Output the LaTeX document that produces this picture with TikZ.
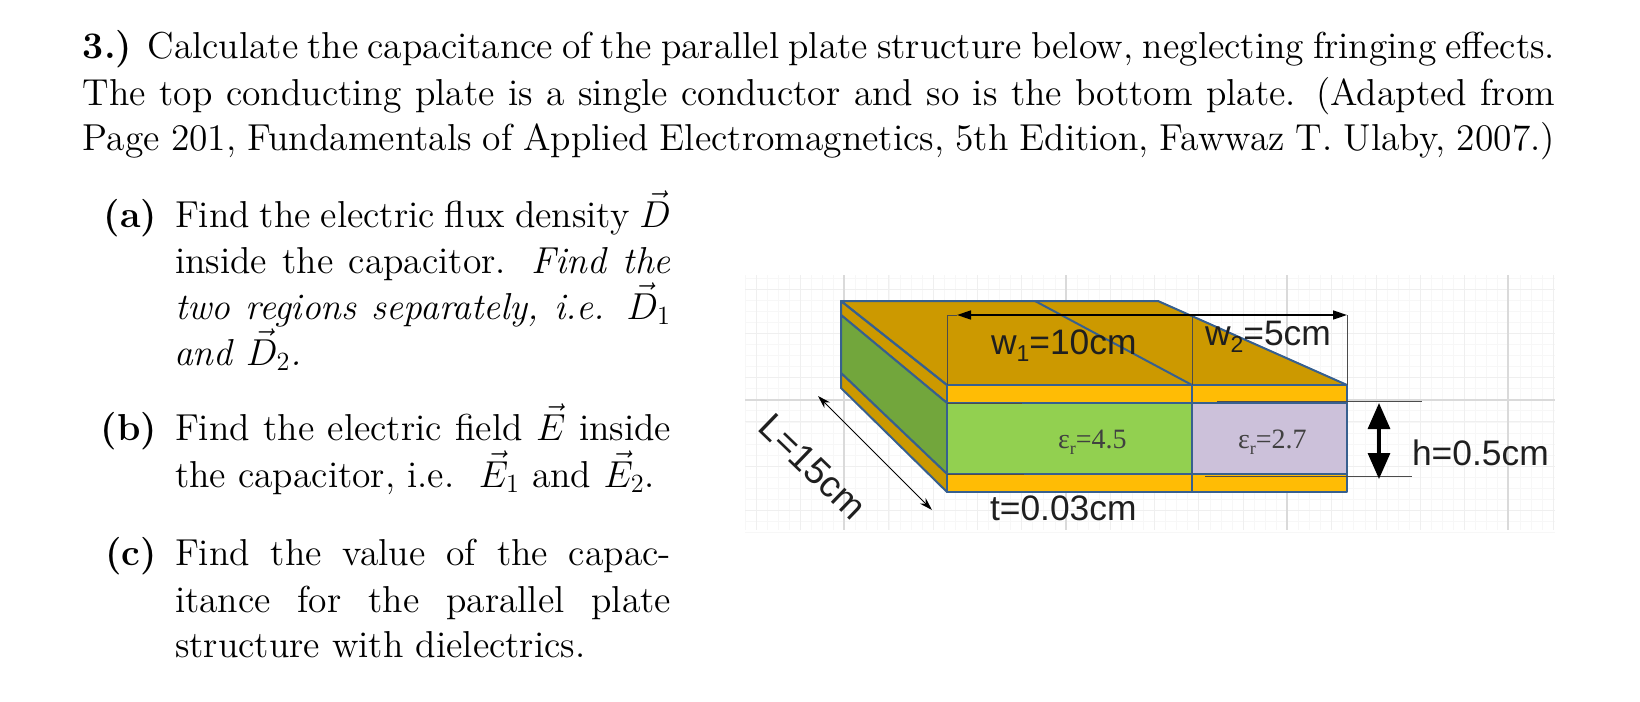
\RequirePackage{fix-cm}
\documentclass[tikz,border=0pt]{standalone}
\usepackage{fontspec}
\usetikzlibrary{arrows.meta}
\setmainfont{lmroman12-regular.otf}[BoldFont=lmroman12-bold.otf,ItalicFont=lmroman12-italic.otf]
\newfontfamily\labelfont{Liberation Sans}
\newfontfamily\epsfont{Liberation Serif}
\definecolor{topface}{HTML}{CC9900}
\definecolor{plate}{HTML}{FFBC05}
\definecolor{greenfront}{HTML}{92D050}
\definecolor{greenside}{HTML}{72A63C}
\definecolor{lilac}{HTML}{CCC1DA}
\definecolor{edge}{HTML}{37608F}
\definecolor{gridfine}{HTML}{F7F7F7}
\definecolor{gridmid}{HTML}{EFEFEF}
\definecolor{gridmajor}{HTML}{DADADA}
\newcommand{\lowsub}[1]{\raisebox{-.22em}{\fontsize{11.5}{12}\selectfont #1}}
\newcommand{\jline}[1]{\makebox[248pt][s]{#1}}
\newcommand{\fullline}[1]{\makebox[736pt][s]{#1}}
\tikzset{
  txt/.style={anchor=base west,inner sep=0pt,outer sep=0pt,font=\fontsize{18.75}{23}\selectfont},
  itemlabel/.style={anchor=base east,inner sep=0pt,outer sep=0pt,font=\fontsize{18.75}{23}\selectfont},
  figlabel/.style={anchor=base west,inner sep=0pt,outer sep=0pt,text=black!88,font=\labelfont\fontsize{17.7}{20}\selectfont},
  epslabel/.style={anchor=base west,inner sep=0pt,outer sep=0pt,text=black!75,font=\epsfont\fontsize{14}{16}\selectfont},
  face/.style={draw=edge,line width=1pt,line join=round},
  guide/.style={draw=black!70,line width=.45pt},
  dimarrow/.style={draw=black,line width=.8pt,-{Triangle[length=7pt,width=4.5pt]}},
  fatarrow/.style={draw=black,line width=1.6pt,{Triangle[length=13pt,width=11pt]}-{Triangle[length=13pt,width=11pt]}},
  thinarrow/.style={draw=black,line width=.5pt,{Stealth[length=6.5pt,width=4pt]}-{Stealth[length=6.5pt,width=4pt]}}
}
\begin{document}
\begin{tikzpicture}[x=.5pt,y=-.5pt]
\useasboundingbox (0,0) rectangle (1640,702);
% grid
\foreach \k in {0,...,73} \draw[gridfine,line width=.4pt] ({745+\k*11.07},275) -- ({745+\k*11.07},530);
\foreach \k in {0,...,23} \draw[gridfine,line width=.4pt] (745,{278+\k*11.07}) -- (1555,{278+\k*11.07});
\foreach \k in {0,...,18} \draw[gridmid,line width=.4pt] ({756+\k*44.28},275) -- ({756+\k*44.28},530);
\foreach \k in {0,...,5} \draw[gridmid,line width=.4pt] (745,{289+\k*44.28}) -- (1555,{289+\k*44.28});
\foreach \xx in {844,1066,1287,1508} \draw[gridmajor,line width=.6pt] (\xx,275) -- (\xx,530);
\draw[gridmajor,line width=.6pt] (745,400) -- (1555,400);
% corners
\coordinate (bTL) at (841,301);
\coordinate (bTR) at (1158,301);
\coordinate (bM) at (1035,301);
\coordinate (b2) at (841,315);
\coordinate (b3) at (841,373);
\coordinate (b4) at (841,388);
\coordinate (f1) at (947,385);
\coordinate (f2) at (947,403);
\coordinate (f3) at (947,474);
\coordinate (f4) at (947,492);
\coordinate (m1) at (1192,385);
\coordinate (m2) at (1192,403);
\coordinate (m3) at (1192,474);
\coordinate (m4) at (1192,492);
\coordinate (r1) at (1347,385);
\coordinate (r2) at (1347,403);
\coordinate (r3) at (1347,474);
\coordinate (r4) at (1347,492);
% faces
\fill[topface] (bTL) -- (bTR) -- (r1) -- (f1) -- cycle;
\draw[face,fill=topface] (bTL) -- (b2) -- (f2) -- (f1) -- cycle;
\draw[face,fill=greenside] (b2) -- (b3) -- (f3) -- (f2) -- cycle;
\draw[face,fill=topface] (b3) -- (b4) -- (f4) -- (f3) -- cycle;
\draw[face] (f1) -- (bTL) -- (bTR) -- (r1);
\draw[face] (bM) -- (m1);
\draw[face,fill=plate] (f1) rectangle (m2);
\draw[face,fill=plate] (m1) rectangle (r2);
\draw[face,fill=greenfront] (f2) rectangle (m3);
\draw[face,fill=lilac] (m2) rectangle (r3);
\draw[face,fill=plate] (f3) rectangle (m4);
\draw[face,fill=plate] (m3) rectangle (r4);
% guides
\coordinate (gA) at (947,315);
\coordinate (gB) at (1192,315);
\coordinate (gC) at (1347,315);
\coordinate (hA) at (1217,401);
\coordinate (hB) at (1422,401);
\coordinate (hC) at (1205,476);
\coordinate (hD) at (1412,476);
\draw[guide] (gA) -- (f1);
\draw[guide] (gB) -- (m1);
\draw[guide] (gC) -- (r1);
\draw[guide] (hA) -- (hB);
\draw[guide] (hC) -- (hD);
\draw[guide] (947,403) -- (1022,403);
\draw[guide] (947,474) -- (1024,474);
% dimension arrows
\coordinate (gAtip) at (957,315);
\draw[guide] (gA) -- (gAtip);
\draw[dimarrow] (gB) -- (gC);
\draw[dimarrow] (gB) -- (gAtip);
\coordinate (hT) at (1379,403);
\coordinate (hL) at (1379,479);
\draw[fatarrow] (hT) -- (hL);
\coordinate (lA) at (818,396);
\coordinate (lB) at (932,510);
\draw[thinarrow] (lA) -- (lB);
% figure labels
\node[figlabel] (w1) at (991,354) {w\lowsub{1}=10cm};
\node[figlabel] (w2) at (1205,345) {w\lowsub{2}=5cm};
\node[figlabel] (tl) at (990,520) {t=0.03cm};
\node[figlabel] (hl) at (1412,465) {h=0.5cm};
\node[figlabel,anchor=center,rotate=-44,font=\labelfont\fontsize{18.5}{20}\selectfont] (ll) at (813,467) {L=15cm};
\node[epslabel] (e1) at (1058,448) {ε\lowsub{\epsfont\fontsize{9}{10}\selectfont r}=4.5};
\node[epslabel] (e2) at (1238,448) {ε\lowsub{\epsfont\fontsize{9}{10}\selectfont r}=2.7};
% text
\node[txt] (l1) at (83,58) {\fullline{\textbf{3.)} Calculate the capacitance of the parallel plate structure below, neglecting fringing effects.}};
\node[txt] (l2) at (83,105) {\fullline{The top conducting plate is a single conductor and so is the bottom plate. (Adapted from}};
\node[txt] (l3) at (83,150) {\fullline{Page 201, Fundamentals of Applied Electromagnetics, 5th Edition, Fawwaz T. Ulaby, 2007.)}};
\node[itemlabel] (la) at (157,227) {\textbf{(a)}};
\node[txt] (a1) at (175,227) {\jline{Find the electric flux density $\vec{D}$}};
\node[txt] (a2) at (175,273) {\jline{inside the capacitor. \textit{Find the}}};
\node[txt] (a3) at (175,319) {\jline{\textit{two regions separately, i.e.} $\vec{D}_1$}};
\node[txt] (a4) at (174,365) {\textit{and} $\vec{D}_2$\textit{.}};
\node[itemlabel] (lb) at (157,440) {\textbf{(b)}};
\node[txt] (b1) at (175,440) {\jline{Find the electric field $\vec{E}$ inside}};
\node[txt] (b2) at (175,487) {the capacitor, i.e.\ \ $\vec{E}_1$ and $\vec{E}_2$.};
\node[itemlabel] (lc) at (157,565) {\textbf{(c)}};
\node[txt] (c1) at (175,565) {\jline{Find the value of the capac-}};
\node[txt] (c2) at (175,612) {\jline{itance for the parallel plate}};
\node[txt] (c3) at (175,657) {structure with dielectrics.};
\end{tikzpicture}
\end{document}
